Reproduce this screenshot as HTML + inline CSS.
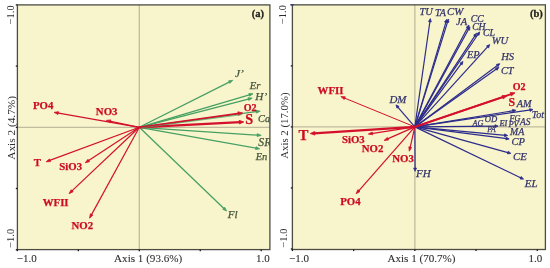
<!DOCTYPE html>
<html><head><meta charset="utf-8"><style>
html,body{margin:0;padding:0;background:#fff;}
svg{display:block;font-family:"Liberation Serif",serif;}
</style></head><body>
<svg width="550" height="268" viewBox="0 0 550 268">
<defs><clipPath id="clipL"><rect x="17.4" y="4.9" width="252.5" height="244.7"/></clipPath></defs>
<rect width="550" height="268" fill="#ffffff"/>
<rect x="17.4" y="4.9" width="252.50" height="244.70" fill="#f8f4cc"/>
<line x1="139.3" y1="4.9" x2="139.3" y2="249.6" stroke="#c0bc9e" stroke-width="1.3"/>
<line x1="17.4" y1="127.3" x2="269.9" y2="127.3" stroke="#c0bc9e" stroke-width="1.3"/>
<rect x="292.4" y="4.85" width="253.00" height="244.65" fill="#f8f4cc"/>
<line x1="414.85" y1="4.85" x2="414.85" y2="249.5" stroke="#c0bc9e" stroke-width="1.3"/>
<line x1="292.4" y1="126.9" x2="545.4" y2="126.9" stroke="#c0bc9e" stroke-width="1.3"/>
<line x1="139.30" y1="127.30" x2="230.16" y2="81.63" stroke="#45a062" stroke-width="1.25"/>
<polygon points="232.84,80.28 229.90,83.33 228.64,80.83" fill="#45a062" stroke="#45a062" stroke-width="0.8" stroke-linejoin="round"/>
<line x1="139.30" y1="127.30" x2="250.14" y2="94.56" stroke="#45a062" stroke-width="1.25"/>
<polygon points="253.02,93.71 249.58,96.19 248.78,93.50" fill="#45a062" stroke="#45a062" stroke-width="0.8" stroke-linejoin="round"/>
<line x1="139.30" y1="127.30" x2="249.31" y2="98.85" stroke="#45a062" stroke-width="1.25"/>
<polygon points="252.21,98.10 248.69,100.46 247.99,97.75" fill="#45a062" stroke="#45a062" stroke-width="0.8" stroke-linejoin="round"/>
<line x1="139.30" y1="127.30" x2="257.23" y2="111.55" stroke="#45a062" stroke-width="1.25"/>
<polygon points="260.20,111.15 256.42,113.07 256.05,110.29" fill="#45a062" stroke="#45a062" stroke-width="0.8" stroke-linejoin="round"/>
<line x1="139.30" y1="127.30" x2="258.21" y2="135.18" stroke="#45a062" stroke-width="1.25"/>
<polygon points="261.20,135.37 257.12,136.51 257.30,133.71" fill="#45a062" stroke="#45a062" stroke-width="0.8" stroke-linejoin="round"/>
<line x1="139.30" y1="127.30" x2="256.75" y2="148.30" stroke="#45a062" stroke-width="1.25"/>
<polygon points="259.71,148.83 255.52,149.50 256.02,146.75" fill="#45a062" stroke="#45a062" stroke-width="0.8" stroke-linejoin="round"/>
<line x1="139.30" y1="127.30" x2="224.45" y2="208.95" stroke="#45a062" stroke-width="1.25"/>
<polygon points="226.61,211.02 222.76,209.27 224.69,207.24" fill="#45a062" stroke="#45a062" stroke-width="0.8" stroke-linejoin="round"/>
<line x1="139.30" y1="127.30" x2="57.25" y2="112.92" stroke="#d4102c" stroke-width="1.2"/>
<polygon points="54.09,112.37 58.47,111.71 57.99,114.47" fill="#d4102c" stroke="#d4102c" stroke-width="0.8" stroke-linejoin="round"/>
<line x1="139.30" y1="127.30" x2="109.52" y2="121.04" stroke="#d4102c" stroke-width="1.2"/>
<polygon points="106.39,120.38 110.79,119.88 110.21,122.62" fill="#d4102c" stroke="#d4102c" stroke-width="0.8" stroke-linejoin="round"/>
<line x1="139.30" y1="127.30" x2="49.08" y2="160.65" stroke="#d4102c" stroke-width="1.2"/>
<polygon points="46.08,161.76 49.53,158.99 50.50,161.62" fill="#d4102c" stroke="#d4102c" stroke-width="0.8" stroke-linejoin="round"/>
<line x1="139.30" y1="127.30" x2="87.91" y2="161.02" stroke="#d4102c" stroke-width="1.2"/>
<polygon points="85.23,162.78 87.98,159.31 89.51,161.65" fill="#d4102c" stroke="#d4102c" stroke-width="0.8" stroke-linejoin="round"/>
<line x1="139.30" y1="127.30" x2="71.42" y2="191.43" stroke="#d4102c" stroke-width="1.2"/>
<polygon points="69.09,193.63 71.18,189.72 73.11,191.76" fill="#d4102c" stroke="#d4102c" stroke-width="0.8" stroke-linejoin="round"/>
<line x1="139.30" y1="127.30" x2="91.13" y2="215.34" stroke="#d4102c" stroke-width="1.2"/>
<polygon points="89.59,218.15 90.38,213.79 92.84,215.14" fill="#d4102c" stroke="#d4102c" stroke-width="0.8" stroke-linejoin="round"/>
<line x1="139.30" y1="127.30" x2="239.14" y2="113.45" stroke="#d4102c" stroke-width="1.8"/>
<polygon points="242.70,112.95 238.39,115.37 237.90,111.80" fill="#d4102c" stroke="#d4102c" stroke-width="0.8" stroke-linejoin="round"/>
<line x1="139.30" y1="127.30" x2="240.21" y2="122.11" stroke="#d4102c" stroke-width="2.2"/>
<polygon points="243.80,121.92 239.30,123.95 239.11,120.36" fill="#d4102c" stroke="#d4102c" stroke-width="0.8" stroke-linejoin="round"/>
<line x1="141.3" y1="127.89999999999999" x2="242" y2="114.63" stroke="#45a062" stroke-width="0.9" opacity="0.75"/>
<text x="235.00" y="76.95" font-size="11.33" font-weight="normal" font-style="italic" fill="#43553a" stroke="#43553a" stroke-width="0.25" clip-path="url(#clipL)">J’</text>
<text x="249.78" y="89.07" font-size="10.69" font-weight="normal" font-style="italic" fill="#43553a" stroke="#43553a" stroke-width="0.25" clip-path="url(#clipL)">Er</text>
<text x="255.30" y="99.95" font-size="11.25" font-weight="normal" font-style="italic" fill="#43553a" stroke="#43553a" stroke-width="0.25" clip-path="url(#clipL)">H’</text>
<text x="258.05" y="122.33" font-size="10.38" font-weight="normal" font-style="italic" fill="#43553a" stroke="#43553a" stroke-width="0.25" clip-path="url(#clipL)">Ca</text>
<text x="258.30" y="145.72" font-size="11.72" font-weight="normal" font-style="italic" fill="#43553a" stroke="#43553a" stroke-width="0.25" clip-path="url(#clipL)">SR</text>
<text x="255.65" y="159.55" font-size="10.5" font-weight="normal" font-style="italic" fill="#43553a" stroke="#43553a" stroke-width="0.25" clip-path="url(#clipL)">En</text>
<text x="227.80" y="218.47" font-size="11.04" font-weight="normal" font-style="italic" fill="#43553a" stroke="#43553a" stroke-width="0.25" clip-path="url(#clipL)">Fl</text>
<text x="32.95" y="109.33" font-size="10.8" font-weight="bold" font-style="normal" fill="#cc0c20" stroke="#cc0c20" stroke-width="0.25">PO4</text>
<text x="95.85" y="114.77" font-size="10.8" font-weight="bold" font-style="normal" fill="#cc0c20" stroke="#cc0c20" stroke-width="0.25">NO3</text>
<text x="33.65" y="166.22" font-size="10.8" font-weight="bold" font-style="normal" fill="#cc0c20" stroke="#cc0c20" stroke-width="0.25">T</text>
<text x="59.25" y="169.55" font-size="10.8" font-weight="bold" font-style="normal" fill="#cc0c20" stroke="#cc0c20" stroke-width="0.25">SiO3</text>
<text x="42.75" y="205.72" font-size="10.8" font-weight="bold" font-style="normal" fill="#cc0c20" stroke="#cc0c20" stroke-width="0.25">WFII</text>
<text x="71.50" y="229.38" font-size="10.8" font-weight="bold" font-style="normal" fill="#cc0c20" stroke="#cc0c20" stroke-width="0.25">NO2</text>
<text x="243.85" y="111.20" font-size="10.0" font-weight="bold" font-style="normal" fill="#cc0c20" stroke="#cc0c20" stroke-width="0.25">O2</text>
<text x="245.30" y="124.30" font-size="14.2" font-weight="bold" font-style="normal" fill="#cc0c20" stroke="#cc0c20" stroke-width="0.25">S</text>
<text x="251.8" y="16.9" font-size="10.5" font-weight="bold" fill="#222" stroke="#222" stroke-width="0.3">(a)</text>
<line x1="414.85" y1="126.90" x2="430.03" y2="20.77" stroke="#2c2c8c" stroke-width="1.2"/>
<polygon points="430.34,18.60 431.28,21.96 428.50,21.57" fill="#2c2c8c" stroke="#2c2c8c" stroke-width="0.8" stroke-linejoin="round"/>
<line x1="414.85" y1="126.90" x2="446.16" y2="21.39" stroke="#2c2c8c" stroke-width="1.2"/>
<polygon points="446.79,19.28 447.22,22.75 444.53,21.95" fill="#2c2c8c" stroke="#2c2c8c" stroke-width="0.8" stroke-linejoin="round"/>
<line x1="414.85" y1="126.90" x2="447.83" y2="21.08" stroke="#2c2c8c" stroke-width="1.2"/>
<polygon points="448.48,18.98 448.87,22.45 446.19,21.62" fill="#2c2c8c" stroke="#2c2c8c" stroke-width="0.8" stroke-linejoin="round"/>
<line x1="414.85" y1="126.90" x2="467.98" y2="27.00" stroke="#2c2c8c" stroke-width="1.2"/>
<polygon points="469.01,25.05 468.75,28.54 466.27,27.22" fill="#2c2c8c" stroke="#2c2c8c" stroke-width="0.8" stroke-linejoin="round"/>
<line x1="414.85" y1="126.90" x2="468.85" y2="28.68" stroke="#2c2c8c" stroke-width="1.2"/>
<polygon points="469.91,26.75 469.59,30.23 467.14,28.88" fill="#2c2c8c" stroke="#2c2c8c" stroke-width="0.8" stroke-linejoin="round"/>
<line x1="414.85" y1="126.90" x2="478.43" y2="33.75" stroke="#2c2c8c" stroke-width="1.2"/>
<polygon points="479.67,31.93 479.03,35.36 476.71,33.78" fill="#2c2c8c" stroke="#2c2c8c" stroke-width="0.8" stroke-linejoin="round"/>
<line x1="414.85" y1="126.90" x2="475.37" y2="35.07" stroke="#2c2c8c" stroke-width="1.2"/>
<polygon points="476.58,33.23 475.99,36.68 473.65,35.14" fill="#2c2c8c" stroke="#2c2c8c" stroke-width="0.8" stroke-linejoin="round"/>
<line x1="414.85" y1="126.90" x2="488.25" y2="46.22" stroke="#2c2c8c" stroke-width="1.2"/>
<polygon points="489.73,44.60 488.61,47.90 486.54,46.02" fill="#2c2c8c" stroke="#2c2c8c" stroke-width="0.8" stroke-linejoin="round"/>
<line x1="414.85" y1="126.90" x2="461.66" y2="63.20" stroke="#2c2c8c" stroke-width="1.2"/>
<polygon points="462.96,61.42 462.20,64.83 459.94,63.17" fill="#2c2c8c" stroke="#2c2c8c" stroke-width="0.8" stroke-linejoin="round"/>
<line x1="414.85" y1="126.90" x2="498.01" y2="64.95" stroke="#2c2c8c" stroke-width="1.2"/>
<polygon points="499.78,63.64 498.05,66.67 496.38,64.43" fill="#2c2c8c" stroke="#2c2c8c" stroke-width="0.8" stroke-linejoin="round"/>
<line x1="414.85" y1="126.90" x2="497.08" y2="68.60" stroke="#2c2c8c" stroke-width="1.2"/>
<polygon points="498.87,67.33 497.07,70.32 495.45,68.04" fill="#2c2c8c" stroke="#2c2c8c" stroke-width="0.8" stroke-linejoin="round"/>
<line x1="414.85" y1="126.90" x2="513.73" y2="110.62" stroke="#2c2c8c" stroke-width="1.2"/>
<polygon points="515.91,110.26 512.98,112.17 512.52,109.40" fill="#2c2c8c" stroke="#2c2c8c" stroke-width="0.8" stroke-linejoin="round"/>
<line x1="414.85" y1="126.90" x2="530.83" y2="109.88" stroke="#2c2c8c" stroke-width="1.2"/>
<polygon points="533.00,109.56 530.04,111.41 529.63,108.64" fill="#2c2c8c" stroke="#2c2c8c" stroke-width="0.8" stroke-linejoin="round"/>
<line x1="414.85" y1="126.90" x2="496.00" y2="126.12" stroke="#2c2c8c" stroke-width="1.2"/>
<polygon points="498.20,126.10 495.01,127.53 494.99,124.73" fill="#2c2c8c" stroke="#2c2c8c" stroke-width="0.8" stroke-linejoin="round"/>
<line x1="414.85" y1="126.90" x2="505.51" y2="135.36" stroke="#2c2c8c" stroke-width="1.2"/>
<polygon points="507.70,135.56 504.39,136.66 504.65,133.87" fill="#2c2c8c" stroke="#2c2c8c" stroke-width="0.8" stroke-linejoin="round"/>
<line x1="414.85" y1="126.90" x2="507.02" y2="138.67" stroke="#2c2c8c" stroke-width="1.2"/>
<polygon points="509.20,138.95 505.85,139.93 506.21,137.16" fill="#2c2c8c" stroke="#2c2c8c" stroke-width="0.8" stroke-linejoin="round"/>
<line x1="414.85" y1="126.90" x2="508.79" y2="152.81" stroke="#2c2c8c" stroke-width="1.2"/>
<polygon points="510.91,153.39 507.46,153.89 508.20,151.19" fill="#2c2c8c" stroke="#2c2c8c" stroke-width="0.8" stroke-linejoin="round"/>
<line x1="414.85" y1="126.90" x2="521.56" y2="178.17" stroke="#2c2c8c" stroke-width="1.2"/>
<polygon points="523.54,179.13 520.05,179.00 521.26,176.48" fill="#2c2c8c" stroke="#2c2c8c" stroke-width="0.8" stroke-linejoin="round"/>
<line x1="414.85" y1="126.90" x2="397.39" y2="106.57" stroke="#2c2c8c" stroke-width="1.2"/>
<polygon points="395.96,104.90 399.11,106.42 396.98,108.24" fill="#2c2c8c" stroke="#2c2c8c" stroke-width="0.8" stroke-linejoin="round"/>
<line x1="414.85" y1="126.90" x2="415.09" y2="169.10" stroke="#2c2c8c" stroke-width="1.2"/>
<polygon points="415.10,171.30 413.68,168.11 416.48,168.09" fill="#2c2c8c" stroke="#2c2c8c" stroke-width="0.8" stroke-linejoin="round"/>
<line x1="414.85" y1="126.90" x2="511.61" y2="93.99" stroke="#d4102c" stroke-width="1.8"/>
<polygon points="515.02,92.83 511.25,96.01 510.09,92.61" fill="#d4102c" stroke="#d4102c" stroke-width="0.8" stroke-linejoin="round"/>
<line x1="414.85" y1="126.90" x2="503.61" y2="96.88" stroke="#d4102c" stroke-width="1.8"/>
<polygon points="507.02,95.73 503.24,98.91 502.09,95.50" fill="#d4102c" stroke="#d4102c" stroke-width="0.8" stroke-linejoin="round"/>
<line x1="414.85" y1="126.90" x2="313.79" y2="133.35" stroke="#d4102c" stroke-width="2.2"/>
<polygon points="310.20,133.57 314.68,131.49 314.90,135.08" fill="#d4102c" stroke="#d4102c" stroke-width="0.8" stroke-linejoin="round"/>
<line x1="414.85" y1="126.90" x2="371.46" y2="133.55" stroke="#d4102c" stroke-width="1.2"/>
<polygon points="368.30,134.04 372.23,132.02 372.66,134.79" fill="#d4102c" stroke="#d4102c" stroke-width="0.8" stroke-linejoin="round"/>
<line x1="414.85" y1="126.90" x2="387.00" y2="139.15" stroke="#d4102c" stroke-width="1.2"/>
<polygon points="384.07,140.44 387.35,137.47 388.47,140.03" fill="#d4102c" stroke="#d4102c" stroke-width="0.8" stroke-linejoin="round"/>
<line x1="414.85" y1="126.90" x2="410.00" y2="148.09" stroke="#d4102c" stroke-width="1.2"/>
<polygon points="409.29,151.21 408.86,146.80 411.59,147.43" fill="#d4102c" stroke="#d4102c" stroke-width="0.8" stroke-linejoin="round"/>
<line x1="414.85" y1="126.90" x2="358.28" y2="191.30" stroke="#d4102c" stroke-width="1.2"/>
<polygon points="356.16,193.70 357.88,189.62 359.99,191.47" fill="#d4102c" stroke="#d4102c" stroke-width="0.8" stroke-linejoin="round"/>
<line x1="414.85" y1="126.90" x2="343.83" y2="97.77" stroke="#d4102c" stroke-width="1.0"/>
<polygon points="340.87,96.55 345.29,96.85 344.22,99.44" fill="#d4102c" stroke="#d4102c" stroke-width="0.8" stroke-linejoin="round"/>
<text x="419.45" y="14.60" font-size="10.4" font-weight="normal" font-style="italic" fill="#33336a" stroke="#33336a" stroke-width="0.25">TU</text>
<text x="434.88" y="16.00" font-size="10.0" font-weight="normal" font-style="italic" fill="#33336a" stroke="#33336a" stroke-width="0.25">TA</text>
<text x="447.10" y="14.80" font-size="10.9" font-weight="normal" font-style="italic" fill="#33336a" stroke="#33336a" stroke-width="0.25">CW</text>
<text x="456.05" y="25.12" font-size="10.5" font-weight="normal" font-style="italic" fill="#33336a" stroke="#33336a" stroke-width="0.25">JA</text>
<text x="470.70" y="21.65" font-size="9.8" font-weight="normal" font-style="italic" fill="#33336a" stroke="#33336a" stroke-width="0.25">CC</text>
<text x="472.15" y="30.10" font-size="9.7" font-weight="normal" font-style="italic" fill="#33336a" stroke="#33336a" stroke-width="0.25">CH</text>
<text x="483.00" y="36.45" font-size="9.8" font-weight="normal" font-style="italic" fill="#33336a" stroke="#33336a" stroke-width="0.25">CL</text>
<text x="491.80" y="44.18" font-size="10.6" font-weight="normal" font-style="italic" fill="#33336a" stroke="#33336a" stroke-width="0.25">WU</text>
<text x="467.03" y="57.75" font-size="10.4" font-weight="normal" font-style="italic" fill="#33336a" stroke="#33336a" stroke-width="0.25">EP</text>
<text x="501.15" y="60.15" font-size="10.6" font-weight="normal" font-style="italic" fill="#33336a" stroke="#33336a" stroke-width="0.25">HS</text>
<text x="500.88" y="73.70" font-size="10.4" font-weight="normal" font-style="italic" fill="#33336a" stroke="#33336a" stroke-width="0.25">CT</text>
<text x="516.82" y="107.03" font-size="10.2" font-weight="normal" font-style="italic" fill="#33336a" stroke="#33336a" stroke-width="0.25">AM</text>
<text x="531.67" y="118.38" font-size="10.0" font-weight="normal" font-style="italic" fill="#33336a" stroke="#33336a" stroke-width="0.25">Tot</text>
<text x="472.55" y="125.57" font-size="8.2" font-weight="normal" font-style="italic" fill="#33336a" stroke="#33336a" stroke-width="0.25">AG</text>
<text x="484.75" y="122.30" font-size="8.6" font-weight="normal" font-style="italic" fill="#33336a" stroke="#33336a" stroke-width="0.25">OD</text>
<text x="499.50" y="125.70" font-size="8.4" font-weight="normal" font-style="italic" fill="#33336a" stroke="#33336a" stroke-width="0.25">EI</text>
<text x="509.55" y="120.70" font-size="8.3" font-weight="normal" font-style="italic" fill="#33336a" stroke="#33336a" stroke-width="0.25">FG</text>
<text x="508.40" y="126.98" font-size="8.5" font-weight="normal" font-style="italic" fill="#33336a" stroke="#33336a" stroke-width="0.25">PV</text>
<text x="519.95" y="125.15" font-size="9.4" font-weight="normal" font-style="italic" fill="#33336a" stroke="#33336a" stroke-width="0.25">AS</text>
<text x="487.30" y="131.65" font-size="7.6" font-weight="normal" font-style="italic" fill="#33336a" stroke="#33336a" stroke-width="0.25">PA</text>
<text x="510.02" y="135.12" font-size="9.8" font-weight="normal" font-style="italic" fill="#33336a" stroke="#33336a" stroke-width="0.25">MA</text>
<text x="511.60" y="145.32" font-size="10.5" font-weight="normal" font-style="italic" fill="#33336a" stroke="#33336a" stroke-width="0.25">CP</text>
<text x="513.12" y="160.40" font-size="10.9" font-weight="normal" font-style="italic" fill="#33336a" stroke="#33336a" stroke-width="0.25">CE</text>
<text x="524.70" y="186.65" font-size="11.0" font-weight="normal" font-style="italic" fill="#33336a" stroke="#33336a" stroke-width="0.25">EL</text>
<text x="389.50" y="103.23" font-size="10.9" font-weight="normal" font-style="italic" fill="#33336a" stroke="#33336a" stroke-width="0.25">DM</text>
<text x="416.02" y="177.05" font-size="11.0" font-weight="normal" font-style="italic" fill="#33336a" stroke="#33336a" stroke-width="0.25">FH</text>
<text x="512.75" y="90.45" font-size="10.0" font-weight="bold" font-style="normal" fill="#cc0c20" stroke="#cc0c20" stroke-width="0.25">O2</text>
<text x="508.57" y="105.90" font-size="11.8" font-weight="bold" font-style="normal" fill="#cc0c20" stroke="#cc0c20" stroke-width="0.25">S</text>
<text x="298.52" y="139.95" font-size="14.8" font-weight="bold" font-style="normal" fill="#cc0c20" stroke="#cc0c20" stroke-width="0.25">T</text>
<text x="341.95" y="142.75" font-size="10.8" font-weight="bold" font-style="normal" fill="#cc0c20" stroke="#cc0c20" stroke-width="0.25">SiO3</text>
<text x="361.70" y="151.88" font-size="10.8" font-weight="bold" font-style="normal" fill="#cc0c20" stroke="#cc0c20" stroke-width="0.25">NO2</text>
<text x="392.30" y="162.42" font-size="10.8" font-weight="bold" font-style="normal" fill="#cc0c20" stroke="#cc0c20" stroke-width="0.25">NO3</text>
<text x="340.15" y="204.82" font-size="10.8" font-weight="bold" font-style="normal" fill="#cc0c20" stroke="#cc0c20" stroke-width="0.25">PO4</text>
<text x="317.60" y="93.83" font-size="10.8" font-weight="bold" font-style="normal" fill="#cc0c20" stroke="#cc0c20" stroke-width="0.25">WFII</text>
<text x="529.9" y="16.9" font-size="10.5" font-weight="bold" fill="#222" stroke="#222" stroke-width="0.3">(b)</text>
<rect x="17.4" y="4.9" width="252.50" height="244.70" fill="none" stroke="#4c4c44" stroke-width="1.3"/>
<line x1="17.40" y1="249.6" x2="17.40" y2="251.2" stroke="#1a1a1a" stroke-width="1.3"/>
<line x1="15.799999999999999" y1="249.70" x2="17.4" y2="249.70" stroke="#1a1a1a" stroke-width="1.3"/>
<line x1="78.35" y1="249.6" x2="78.35" y2="251.2" stroke="#1a1a1a" stroke-width="1.3"/>
<line x1="15.799999999999999" y1="188.50" x2="17.4" y2="188.50" stroke="#1a1a1a" stroke-width="1.3"/>
<line x1="139.30" y1="249.6" x2="139.30" y2="251.2" stroke="#1a1a1a" stroke-width="1.3"/>
<line x1="15.799999999999999" y1="127.30" x2="17.4" y2="127.30" stroke="#1a1a1a" stroke-width="1.3"/>
<line x1="200.25" y1="249.6" x2="200.25" y2="251.2" stroke="#1a1a1a" stroke-width="1.3"/>
<line x1="15.799999999999999" y1="66.10" x2="17.4" y2="66.10" stroke="#1a1a1a" stroke-width="1.3"/>
<line x1="261.20" y1="249.6" x2="261.20" y2="251.2" stroke="#1a1a1a" stroke-width="1.3"/>
<line x1="15.799999999999999" y1="4.90" x2="17.4" y2="4.90" stroke="#1a1a1a" stroke-width="1.3"/>
<rect x="292.4" y="4.85" width="253.00" height="244.65" fill="none" stroke="#4c4c44" stroke-width="1.3"/>
<line x1="292.40" y1="249.5" x2="292.40" y2="251.1" stroke="#1a1a1a" stroke-width="1.3"/>
<line x1="290.79999999999995" y1="248.95" x2="292.4" y2="248.95" stroke="#1a1a1a" stroke-width="1.3"/>
<line x1="353.62" y1="249.5" x2="353.62" y2="251.1" stroke="#1a1a1a" stroke-width="1.3"/>
<line x1="290.79999999999995" y1="187.93" x2="292.4" y2="187.93" stroke="#1a1a1a" stroke-width="1.3"/>
<line x1="414.85" y1="249.5" x2="414.85" y2="251.1" stroke="#1a1a1a" stroke-width="1.3"/>
<line x1="290.79999999999995" y1="126.90" x2="292.4" y2="126.90" stroke="#1a1a1a" stroke-width="1.3"/>
<line x1="476.08" y1="249.5" x2="476.08" y2="251.1" stroke="#1a1a1a" stroke-width="1.3"/>
<line x1="290.79999999999995" y1="65.88" x2="292.4" y2="65.88" stroke="#1a1a1a" stroke-width="1.3"/>
<line x1="537.30" y1="249.5" x2="537.30" y2="251.1" stroke="#1a1a1a" stroke-width="1.3"/>
<line x1="290.79999999999995" y1="4.85" x2="292.4" y2="4.85" stroke="#1a1a1a" stroke-width="1.3"/>
<text x="16.77" y="262.45" font-size="11.0" font-weight="normal" font-style="normal" fill="#2e2e2e" stroke="#2e2e2e" stroke-width="0.08">−1.0</text>
<text x="256.08" y="262.45" font-size="11.0" font-weight="normal" font-style="normal" fill="#2e2e2e" stroke="#2e2e2e" stroke-width="0.08">1.0</text>
<text x="289.02" y="262.45" font-size="11.0" font-weight="normal" font-style="normal" fill="#2e2e2e" stroke="#2e2e2e" stroke-width="0.08">−1.0</text>
<text x="528.62" y="262.45" font-size="11.0" font-weight="normal" font-style="normal" fill="#2e2e2e" stroke="#2e2e2e" stroke-width="0.08">1.0</text>
<text x="114.12" y="262.10" font-size="11.1" font-weight="normal" font-style="normal" fill="#2e2e2e" stroke="#2e2e2e" stroke-width="0.08">Axis 1 (93.6%)</text>
<text x="387.43" y="262.35" font-size="11.1" font-weight="normal" font-style="normal" fill="#2e2e2e" stroke="#2e2e2e" stroke-width="0.08">Axis 1 (70.7%)</text>
<text transform="translate(10.55,14.85) rotate(-90)" x="-9.43" y="3.45" font-size="10.4" fill="#2e2e2e">−1.0</text>
<text transform="translate(10.80,238.35) rotate(-90)" x="-9.43" y="3.45" font-size="10.4" fill="#2e2e2e">−1.0</text>
<text transform="translate(282.90,14.60) rotate(-90)" x="-9.43" y="3.45" font-size="10.4" fill="#2e2e2e">−1.0</text>
<text transform="translate(283.30,238.10) rotate(-90)" x="-9.43" y="3.45" font-size="10.4" fill="#2e2e2e">−1.0</text>
<line x1="290.2" y1="4.75" x2="294" y2="4.75" stroke="#3a3a8a" stroke-width="1.1"/>
<text transform="translate(11.30,127.90) rotate(-90)" x="-31.85" y="3.92" font-size="11.3" fill="#2e2e2e">Axis 2 (4.7%)</text>
<text transform="translate(284.00,125.60) rotate(-90)" x="-33.15" y="3.75" font-size="10.8" fill="#2e2e2e">Axis 2 (17.0%)</text>
</svg>
</body></html>
